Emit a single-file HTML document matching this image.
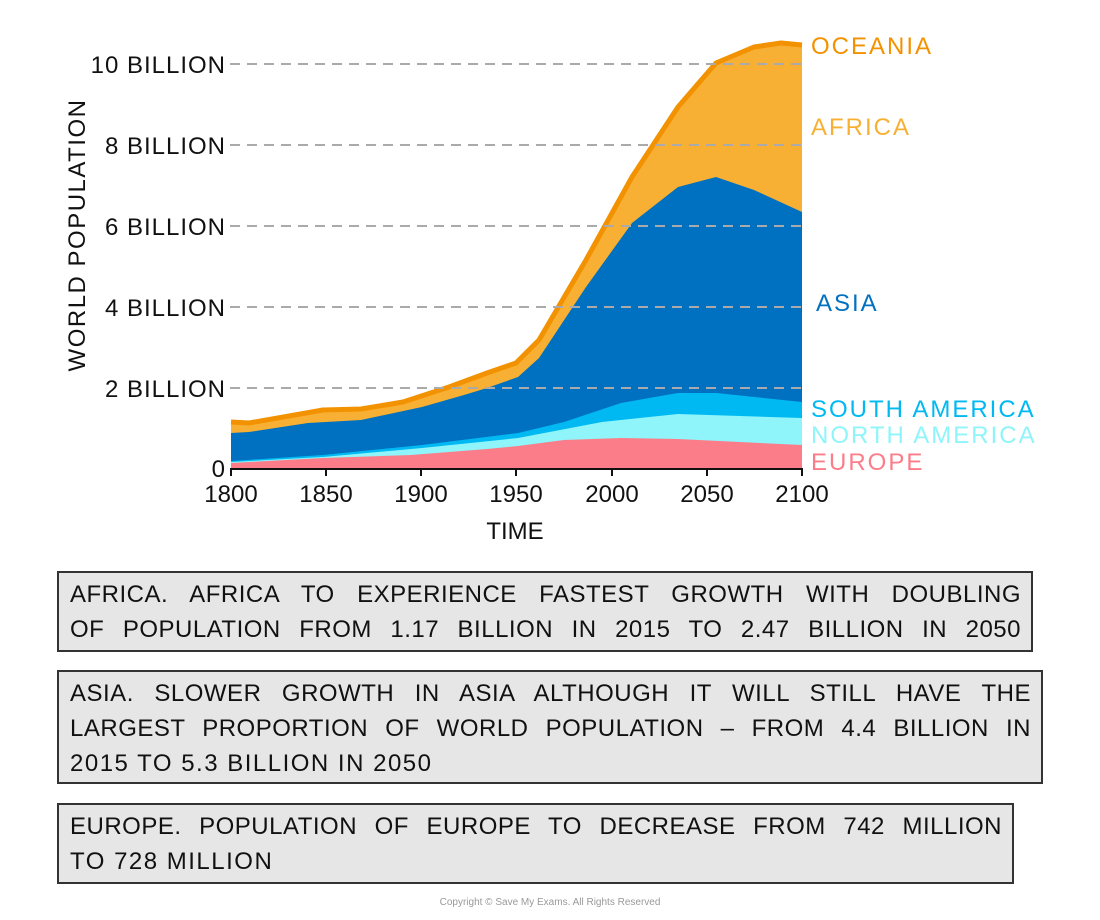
<!DOCTYPE html>
<html><head><meta charset="utf-8"><style>
body{margin:0;width:1100px;height:920px;background:#fff;font-family:"Liberation Sans",sans-serif;position:relative;overflow:hidden}
.box{position:absolute;background:#e6e6e6;border:2px solid #333;box-sizing:border-box;padding:4px 10px 0 11px;font-size:24px;color:#111;line-height:35px;letter-spacing:0.5px}
.j{text-align:justify;text-align-last:justify;white-space:nowrap}
</style></head><body>
<svg width="1100" height="560" style="position:absolute;left:0;top:0" font-family="Liberation Sans, sans-serif">
<path fill="#f7b034" d="M231,422 L249,423 L323,410 L361,409 L403,402 L449,387 L487,373 L516,363 L539,340 L586,260 L632,177 L678,107 L716,63 L754,47 L781,43 L802,45 L802,469 L231,469Z"/>
<path fill="#0070c0" d="M231,433 L249,432 L308,423 L361,420 L422,407 L464,395 L487,388 L518,377 L539,358 L586,287 L632,223 L678,187 L716,177 L754,190 L802,212 L802,469 L231,469Z"/>
<path fill="#00b9f2" d="M231,461 L323,455 L422,445 L518,433 L564,422 L621,403 L678,393 L716,393 L802,402 L802,469 L231,469Z"/>
<path fill="#8ff5fa" d="M231,462 L323,457 L422,448 L518,438 L602,422 L678,414 L802,418 L802,469 L231,469Z"/>
<path fill="#fc7d8a" d="M231,463 L323,458 L411,455 L487,449 L518,446 L564,440 L621,438 L678,439 L802,445 L802,469 L231,469Z"/>
<path fill="none" stroke="#f39200" stroke-width="5" stroke-linejoin="round" d="M231,422 L249,423 L323,410 L361,409 L403,402 L449,387 L487,373 L516,363 L539,340 L586,260 L632,177 L678,107 L716,63 L754,47 L781,43 L802,45"/>
<g stroke="#aaa" stroke-width="2" stroke-dasharray="10,7">
<line x1="230" y1="64" x2="803" y2="64"/><line x1="230" y1="145" x2="803" y2="145"/><line x1="230" y1="226" x2="803" y2="226"/><line x1="230" y1="307" x2="803" y2="307"/><line x1="230" y1="388" x2="803" y2="388"/>
</g>
<g stroke="#111" stroke-width="2"><line x1="230" y1="469" x2="803" y2="469"/>
<line x1="231" y1="469" x2="231" y2="476"/><line x1="326" y1="469" x2="326" y2="476"/><line x1="421" y1="469" x2="421" y2="476"/><line x1="516" y1="469" x2="516" y2="476"/><line x1="612" y1="469" x2="612" y2="476"/><line x1="707" y1="469" x2="707" y2="476"/><line x1="802" y1="469" x2="802" y2="476"/></g>
<g font-size="24" fill="#111" text-anchor="end" letter-spacing="1">
<text x="226" y="73">10 BILLION</text><text x="226" y="154">8 BILLION</text><text x="226" y="235">6 BILLION</text><text x="226" y="316">4 BILLION</text><text x="226" y="397">2 BILLION</text><text x="226" y="477">0</text></g>
<g font-size="24" fill="#111" text-anchor="middle">
<text x="231" y="502">1800</text><text x="326" y="502">1850</text><text x="421" y="502">1900</text><text x="516" y="502">1950</text><text x="612" y="502">2000</text><text x="707" y="502">2050</text><text x="802" y="502">2100</text>
<text x="515" y="539">TIME</text>
<text transform="translate(85,235) rotate(-90)" letter-spacing="1.5">WORLD POPULATION</text></g>
<g font-size="24" letter-spacing="2">
<text x="811" y="54" fill="#f39200">OCEANIA</text>
<text x="811" y="135" fill="#f7b034">AFRICA</text>
<text x="816" y="311" fill="#0070c0">ASIA</text>
<text x="811" y="417" fill="#00b9f2">SOUTH AMERICA</text>
<text x="811" y="443" fill="#8ff5fa">NORTH AMERICA</text>
<text x="811" y="470" fill="#fc7d8a">EUROPE</text></g>
</svg>
<div class="box" style="left:57px;top:571px;width:976px;height:81px">
<div class="j">AFRICA. AFRICA TO EXPERIENCE FASTEST GROWTH WITH DOUBLING</div>
<div class="j">OF POPULATION FROM 1.17 BILLION IN 2015 TO 2.47 BILLION IN 2050</div></div>
<div class="box" style="left:57px;top:670px;width:986px;height:114px">
<div class="j">ASIA. SLOWER GROWTH IN ASIA ALTHOUGH IT WILL STILL HAVE THE</div>
<div class="j">LARGEST PROPORTION OF WORLD POPULATION – FROM 4.4 BILLION IN</div>
<div style="letter-spacing:1.5px">2015 TO 5.3 BILLION IN 2050</div></div>
<div class="box" style="left:57px;top:803px;width:957px;height:81px">
<div class="j">EUROPE. POPULATION OF EUROPE TO DECREASE FROM 742 MILLION</div>
<div style="letter-spacing:1.5px">TO 728 MILLION</div></div>
<div style="position:absolute;left:0;width:1100px;top:897px;text-align:center;font-size:10px;color:#999">Copyright © Save My Exams. All Rights Reserved</div>
</body></html>
